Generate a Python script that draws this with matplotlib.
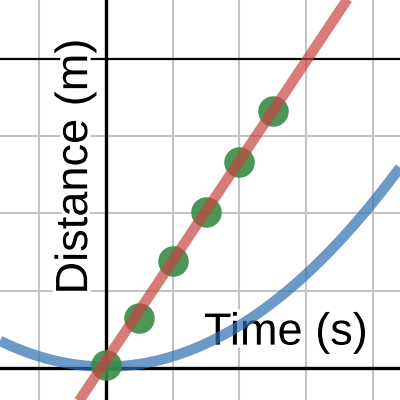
import matplotlib
matplotlib.use("Agg")
import matplotlib.pyplot as plt
import matplotlib.patheffects as pe
import numpy as np

# measured points (time in s, distance in m)
time_pts = [0.0, 0.5, 1.0, 1.5, 2.0, 2.5]
dist_pts = [0.03, 0.64, 1.385, 2.02, 2.66, 3.33]

# red best-fit line: y = slope*x + intercept
line_slope = 1.295
line_intercept = 0.09

# blue parabola: y = a*x^2 + b*x + c
para_a = 0.133
para_b = 0.0
para_c = 0.015

grid_x = [-1, 1, 2, 3, 4]
grid_y = [1, 2, 3]

xlim = (-1.584, 4.404)
ylim = (-0.417, 4.764)

fig = plt.figure(figsize=(4, 4), dpi=100)
ax = fig.add_axes([0, 0, 1, 1])
ax.set_xlim(*xlim)
ax.set_ylim(*ylim)
ax.axis("off")

for gx in grid_x:
    ax.axvline(gx, color="#c4c4c4", lw=1.5, zorder=1)
for gy in grid_y:
    ax.axhline(gy, color="#c4c4c4", lw=1.5, zorder=1)
ax.axhline(4, color="black", lw=1.6, zorder=2)
ax.axhline(0, color="black", lw=2.4, zorder=2)
ax.axvline(0, color="black", lw=2.4, zorder=2)

halo = [pe.withStroke(linewidth=5, foreground="white")]
ax.text(1.47, 0.30, "Time (s)", fontsize=32.5, family="Liberation Sans",
        ha="left", va="baseline", zorder=3, path_effects=halo)
ax.text(-0.28, 0.95, "Distance (m)", fontsize=32.5, family="Liberation Sans",
        rotation=90, rotation_mode="anchor", ha="left", va="baseline",
        zorder=3, path_effects=halo)

xs = np.linspace(xlim[0], xlim[1], 400)
ax.plot(xs, para_a * xs**2 + para_b * xs + para_c, color="#2d70b3",
        alpha=0.7, lw=7.5, solid_capstyle="butt", zorder=4)

ax.plot(time_pts, dist_pts, "o", ms=22, color="#388c46", alpha=0.9,
        mec="none", zorder=5)
ax.plot(xs, line_slope * xs + line_intercept, color="#c74440",
        alpha=0.7, lw=7.5, solid_capstyle="butt", zorder=6)

fig.savefig("out.png", dpi=100)
